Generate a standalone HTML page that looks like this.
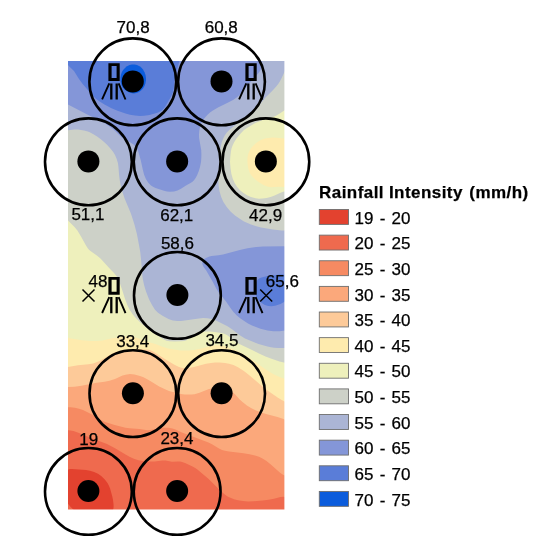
<!DOCTYPE html>
<html><head><meta charset="utf-8"><title>Rainfall Intensity</title>
<style>
html,body{margin:0;padding:0;background:#fff}
svg{display:block}
text{font-family:"Liberation Sans",Arial,Helvetica,sans-serif;font-size:17px;fill:#000;stroke:#000;stroke-width:0.25px}
.t{font-weight:bold}
</style></head><body>
<svg width="546" height="550" viewBox="0 0 546 550">
<rect width="546" height="550" fill="#fff"/>
<clipPath id="mc"><rect x="68" y="61" width="217" height="449"/></clipPath>
<g clip-path="url(#mc)">
<rect x="60" y="54" width="233" height="464" fill="#E3422F"/>
<path fill="#EF6A4E" fill-rule="evenodd" d="M60.5 54.0L293.0 54.0L293.0 518.0L101.4 518.0L103.5 517.5L106.0 516.5L107.9 515.5L109.5 514.4L111.0 513.0L112.2 511.5L113.0 510.0L113.4 508.5L113.6 506.5L113.5 504.0L113.0 500.0L112.3 496.5L110.1 488.5L108.8 485.5L107.5 483.0L104.8 479.5L101.2 476.0L98.0 473.8L94.1 472.0L90.0 470.7L86.0 469.9L72.0 469.0L70.0 469.1L68.5 469.5L66.5 470.7L65.3 472.0L64.3 473.5L62.7 477.0L61.8 481.5L61.7 486.0L62.4 491.0L63.7 495.5L65.5 499.5L67.9 503.5L70.7 507.0L74.0 510.2L77.5 512.8L81.5 515.1L86.0 516.9L90.1 518.0L60.0 518.0L60.0 54.0Z"/>
<path fill="#F68A62" fill-rule="evenodd" d="M60.5 54.0L293.0 54.0L293.0 506.7L291.1 503.0L288.8 500.0L286.0 497.7L284.5 497.0L283.5 496.8L280.5 497.0L274.0 498.8L268.5 499.8L262.5 500.5L253.5 501.3L248.0 501.4L243.0 501.1L238.0 500.3L234.0 499.2L231.0 498.1L228.5 497.0L226.5 495.8L224.5 494.3L220.5 490.8L208.1 478.5L197.4 469.5L195.2 468.0L192.5 466.5L185.0 463.0L182.1 462.0L180.0 461.5L178.0 461.5L172.0 461.8L165.5 460.5L162.5 460.6L154.5 461.5L150.0 461.6L144.0 461.2L138.5 460.3L134.5 459.0L130.0 456.9L125.5 454.4L115.5 448.4L107.0 444.1L93.5 438.9L79.0 432.9L73.5 431.1L68.5 430.3L64.5 430.4L60.0 431.3L60.0 54.0Z"/>
<path fill="#FBA87B" fill-rule="evenodd" d="M60.5 54.0L293.0 54.0L293.0 476.8L285.5 475.7L284.0 475.2L282.6 474.5L279.8 472.5L270.5 464.3L266.5 461.1L262.5 458.4L259.0 456.7L255.0 455.4L249.5 454.2L243.5 453.3L229.0 451.5L225.0 450.7L222.0 449.9L219.0 448.6L212.0 444.3L208.5 442.5L181.9 432.5L175.5 429.6L172.5 428.5L168.5 427.8L163.5 427.7L159.5 428.2L150.5 429.9L147.5 430.2L139.5 429.0L129.5 428.3L125.5 427.8L114.7 425.0L105.0 422.0L98.0 418.5L92.0 414.6L89.0 412.9L83.0 410.1L79.0 408.7L75.0 407.7L70.5 407.2L65.5 407.1L60.0 407.5L60.0 54.0Z"/>
<path fill="#FDCA99" fill-rule="evenodd" d="M60.5 54.0L293.0 54.0L293.0 425.4L287.8 421.5L283.5 419.0L277.5 417.0L267.0 414.2L261.3 412.5L256.0 410.5L251.0 408.0L246.9 405.5L242.5 402.0L239.7 399.5L235.2 394.5L233.0 392.5L231.0 391.3L228.5 390.3L225.0 389.4L220.5 388.7L216.5 388.4L212.5 388.4L209.0 389.1L199.5 392.8L194.5 394.2L191.5 394.5L188.0 394.6L184.5 394.4L181.0 393.9L173.0 392.1L169.0 390.9L165.0 389.3L159.2 386.5L149.0 380.3L143.5 377.3L140.0 375.9L134.5 374.4L130.0 374.1L125.5 374.7L122.5 375.5L115.0 379.0L109.5 380.7L104.5 381.7L96.5 382.8L81.5 385.8L74.5 386.7L60.0 387.3L60.0 54.0Z"/>
<path fill="#FEEBAE" fill-rule="evenodd" d="M60.5 54.0L293.0 54.0L293.0 403.8L284.5 401.4L281.7 400.0L278.0 397.7L270.0 392.3L264.5 388.2L249.0 375.1L243.9 371.0L238.0 367.2L233.5 365.1L229.0 363.7L225.0 362.9L219.5 362.5L215.0 362.5L211.0 362.9L206.0 363.8L194.0 366.9L190.0 367.8L186.0 368.2L182.5 368.0L179.0 366.9L174.0 364.5L166.5 360.1L153.9 352.0L151.1 350.5L149.0 349.8L142.0 349.3L134.0 349.3L127.5 349.8L120.0 351.0L117.0 351.7L114.5 352.6L110.8 354.5L99.5 361.0L96.5 362.3L93.0 363.4L88.5 364.3L78.0 365.3L68.0 367.1L64.5 367.2L60.0 366.8L60.0 54.0Z"/>
<path fill="#EEF0BC" fill-rule="evenodd" d="M60.5 54.0L293.0 54.0L293.0 139.2L284.0 138.5L276.5 137.7L272.5 137.6L269.0 137.9L266.0 138.3L263.5 139.0L261.0 140.0L258.3 141.5L255.6 143.5L252.5 146.5L250.5 149.1L249.2 151.5L248.2 154.0L247.6 157.0L247.4 160.5L247.7 165.0L248.3 168.5L249.4 172.0L250.7 174.5L253.0 177.3L255.9 180.0L259.3 182.5L263.5 185.0L267.2 186.5L270.5 187.2L278.5 186.8L284.0 186.9L287.2 186.0L293.0 183.6L293.0 382.2L279.0 376.8L273.0 373.9L265.0 368.9L247.6 356.5L244.4 354.5L236.5 350.5L226.5 346.7L222.5 345.5L219.0 345.1L215.0 345.2L211.0 345.9L203.5 348.0L194.0 350.0L189.0 350.5L180.5 350.4L172.0 349.3L168.0 348.4L162.5 346.8L155.5 344.0L149.0 342.3L138.0 338.2L134.5 337.2L131.0 336.6L127.0 336.3L123.0 336.4L111.0 338.5L102.5 340.4L97.0 340.9L91.0 340.9L82.0 340.2L71.0 338.5L65.8 337.0L60.0 334.4L60.0 54.0Z"/>
<path fill="#CDD1C8" fill-rule="evenodd" d="M60.5 54.0L293.0 54.0L293.0 105.4L285.5 109.6L279.0 114.0L276.0 115.7L273.0 116.9L264.0 119.6L256.5 122.6L254.0 123.8L247.8 127.5L244.0 130.1L240.2 134.0L236.5 138.5L234.3 142.0L232.6 145.5L231.5 148.5L230.9 151.5L230.3 157.0L230.0 162.0L230.5 168.1L231.4 174.0L232.7 178.5L234.5 182.7L237.0 186.7L240.0 190.2L243.5 193.1L247.5 195.5L251.0 196.9L255.5 198.2L259.0 198.7L262.5 198.6L266.5 198.1L270.5 197.1L274.0 195.7L281.1 192.5L284.0 191.5L285.7 191.5L293.0 192.4L293.0 364.0L286.0 362.9L279.5 361.4L271.5 358.8L265.5 356.5L259.5 353.8L250.5 349.3L239.3 344.0L234.6 341.0L228.0 335.8L226.0 334.5L223.5 333.6L219.5 332.7L214.5 331.9L210.0 331.6L205.0 331.6L200.5 332.0L197.5 332.6L195.5 333.5L188.5 339.0L186.5 340.2L184.5 341.0L181.0 341.3L175.0 341.5L169.5 341.3L166.5 340.8L163.8 339.5L154.2 333.5L148.6 329.5L143.7 325.5L139.8 322.0L135.8 318.0L132.8 314.5L129.8 310.0L127.3 305.0L124.7 298.0L122.2 290.0L120.0 283.7L118.4 279.5L117.0 276.8L114.0 273.0L109.1 268.0L100.5 258.5L97.5 256.0L90.5 251.1L89.2 250.0L87.9 248.5L86.0 245.5L81.0 236.4L77.4 230.5L74.5 227.0L68.5 221.0L67.0 219.0L65.0 215.0L60.0 203.3L60.0 54.0Z"/>
<path fill="#ABB5D5" fill-rule="evenodd" d="M60.5 54.0L293.0 54.0L293.0 57.5L284.9 71.0L281.4 78.5L279.8 81.5L278.2 84.0L276.2 86.5L272.6 90.5L265.5 97.6L258.9 105.5L254.0 110.5L245.1 118.0L238.6 122.5L229.5 129.8L226.8 132.5L224.7 135.5L223.2 138.5L221.7 142.5L220.9 146.0L219.9 152.0L219.4 156.5L219.2 164.5L218.5 173.0L218.3 178.5L218.6 185.5L219.5 191.3L221.2 197.0L223.4 202.0L226.7 207.0L230.5 211.4L235.0 215.4L240.5 219.3L244.0 221.4L247.5 223.1L251.0 224.6L255.5 226.1L261.0 227.6L273.0 229.6L281.5 230.5L284.1 230.5L286.0 230.0L287.5 229.3L293.0 226.2L293.0 347.6L283.5 348.1L278.5 348.0L274.0 347.7L271.0 347.3L267.5 346.6L258.5 344.1L245.0 338.6L240.2 335.5L232.0 329.3L227.5 326.3L217.0 320.9L214.5 319.8L212.0 319.0L207.5 318.2L203.0 318.1L199.0 318.4L181.0 321.0L177.5 321.0L173.0 320.4L170.5 319.8L168.5 319.1L162.5 315.8L158.0 312.7L155.0 309.7L152.0 305.1L149.0 299.2L146.0 291.5L144.2 285.5L143.1 280.5L142.5 277.0L141.1 260.0L140.3 252.5L139.0 245.0L136.9 234.0L134.6 225.0L131.9 216.5L130.5 212.5L124.6 198.5L122.0 190.5L120.7 185.5L119.7 180.0L119.1 175.0L118.4 166.5L117.9 163.0L116.7 159.0L115.0 155.0L113.2 152.0L110.4 148.5L107.3 145.0L104.1 142.0L100.5 139.0L97.1 136.5L93.0 134.0L89.2 132.0L87.0 131.2L84.0 130.4L78.0 129.5L74.5 129.5L67.0 130.3L60.0 130.2L60.0 54.0Z"/>
<path fill="#8496D8" fill-rule="evenodd" d="M60.5 54.0L261.5 54.0L261.9 58.5L262.0 62.0L261.7 65.0L261.2 68.0L260.5 70.0L259.5 71.8L256.5 75.5L247.7 85.0L240.0 94.6L237.0 97.2L233.0 99.9L228.1 102.5L218.0 107.5L212.5 110.8L210.0 112.6L207.8 114.5L205.5 116.9L204.0 118.7L202.0 122.0L200.7 125.0L199.9 127.5L199.3 131.0L199.0 134.5L199.1 138.0L201.2 150.0L201.4 154.0L201.3 158.0L201.0 162.0L200.0 167.0L198.8 171.0L197.2 175.0L195.6 178.0L194.2 180.0L192.5 181.7L190.5 183.1L186.0 185.4L181.0 188.7L177.5 190.5L174.0 191.6L170.0 191.8L167.0 191.5L164.0 190.8L155.5 187.9L153.0 186.7L151.0 185.4L149.5 184.1L148.1 182.5L145.9 179.0L144.2 175.0L143.0 170.5L140.7 160.0L138.1 151.0L136.3 147.5L135.0 146.0L133.5 144.6L130.5 142.5L121.9 137.5L113.0 129.0L109.5 126.4L105.5 123.8L99.0 120.2L88.2 115.0L60.0 100.5L60.0 54.0ZM263.0 246.5L284.0 246.3L288.0 246.9L293.0 248.0L293.0 328.2L290.9 329.0L285.0 330.6L279.5 331.3L273.5 331.3L267.5 330.4L260.5 328.7L252.0 325.4L248.0 323.4L240.5 318.5L236.8 315.5L233.5 312.0L231.2 309.0L226.0 301.6L218.8 292.5L216.2 288.5L213.0 282.2L206.2 270.5L203.3 266.5L202.5 264.5L202.3 263.5L202.5 262.0L202.8 261.0L203.5 259.9L204.4 259.0L205.9 258.0L209.4 256.5L211.5 256.1L218.5 255.3L223.0 254.5L239.8 250.0L247.5 248.3L256.5 246.9Z"/>
<path fill="#5A7DD8" fill-rule="evenodd" d="M66.0 54.0L180.0 54.0L180.0 54.5L179.8 58.0L179.3 61.5L176.5 71.5L174.6 79.5L173.8 88.0L173.1 92.0L171.4 96.0L165.6 106.0L164.0 108.2L162.0 110.2L160.0 111.5L157.5 112.7L153.0 114.1L149.5 114.9L144.0 115.7L140.0 115.9L135.0 115.5L130.0 114.7L125.5 113.4L117.5 110.7L111.0 107.9L104.5 104.6L99.6 101.5L95.6 98.5L92.1 95.0L82.7 84.0L79.0 79.0L74.0 71.0L69.3 66.5L68.0 65.0L67.0 63.0L66.1 60.0L65.8 56.5L65.8 54.0ZM279.0 274.4L282.5 274.3L285.0 275.0L286.5 275.9L287.9 277.0L289.2 278.5L290.2 280.0L291.0 281.5L291.7 283.5L292.3 287.0L292.2 289.0L291.9 291.0L290.7 294.5L289.0 297.5L286.5 300.2L284.0 302.1L280.5 303.9L275.0 305.7L271.5 306.3L268.2 306.0L264.9 305.0L262.0 303.3L259.5 301.2L257.5 298.7L256.1 296.0L255.2 292.5L254.9 288.5L255.2 285.0L256.0 282.3L257.1 280.5L258.4 279.0L260.0 278.0L261.5 277.4L267.5 276.1L274.5 275.3Z"/>
<path fill="#0B5CDC" fill-rule="evenodd" d="M132.0 64.5L134.5 64.5L137.0 65.1L139.5 66.3L141.5 67.8L143.0 69.6L144.5 72.2L145.5 75.0L146.0 78.0L146.0 80.5L145.4 83.5L144.5 86.0L143.0 88.5L141.0 90.5L139.0 91.9L136.5 93.0L134.0 93.5L132.0 93.3L129.2 92.5L126.5 91.1L124.5 89.5L122.8 87.5L121.7 85.5L120.9 83.0L120.5 80.5L120.5 77.5L121.0 74.5L121.9 72.0L123.1 70.0L125.0 67.9L127.0 66.3L129.5 65.1Z"/>
</g>
<path fill="#fff" d="M284.4 60H286V511H284.4ZM67 509.6H286V511H67ZM67 60H67.8V511H67Z"/>
<g fill="none" stroke="#000" stroke-width="2.6">
<circle cx="132.8" cy="81.8" r="43.4"/>
<circle cx="221.5" cy="81.8" r="43.4"/>
<circle cx="88.4" cy="161.8" r="43.4"/>
<circle cx="177.15" cy="161.8" r="43.4"/>
<circle cx="265.85" cy="161.8" r="43.4"/>
<circle cx="177.4" cy="295.4" r="43.4"/>
<circle cx="132.9" cy="393.6" r="43.4"/>
<circle cx="221.6" cy="393.6" r="43.4"/>
<circle cx="88.4" cy="491.4" r="43.4"/>
<circle cx="177.15" cy="491.4" r="43.4"/>
</g><g fill="#000">
<circle cx="132.8" cy="81.4" r="11.0"/>
<circle cx="221.5" cy="81.4" r="11.0"/>
<circle cx="88.4" cy="161.4" r="11.0"/>
<circle cx="177.15" cy="161.4" r="11.0"/>
<circle cx="265.85" cy="161.4" r="11.0"/>
<circle cx="177.4" cy="295.0" r="11.0"/>
<circle cx="132.9" cy="393.2" r="11.0"/>
<circle cx="221.6" cy="393.2" r="11.0"/>
<circle cx="88.4" cy="491.0" r="11.0"/>
<circle cx="177.15" cy="491.0" r="11.0"/>
</g>
<g transform="translate(0,0)" stroke="#000" fill="none" stroke-linecap="butt">
<path d="M108.4 63.2H119.7V81.1H108.4ZM111.6 66H116.6V78.1H111.6Z" fill="#000" fill-rule="evenodd" stroke="none"/>
<path d="M109.3 83.4L102.1 99.3M118.6 83.4L125.5 99.5" stroke-width="1.9"/><path d="M111.3 83.4V99.5M116.7 83.4V99.5" stroke-width="2.3"/>
</g>
<g transform="translate(137,0)" stroke="#000" fill="none" stroke-linecap="butt">
<path d="M108.4 63.2H119.7V81.1H108.4ZM111.6 66H116.6V78.1H111.6Z" fill="#000" fill-rule="evenodd" stroke="none"/>
<path d="M109.3 83.4L102.1 99.3M118.6 83.4L125.5 99.5" stroke-width="1.9"/><path d="M111.3 83.4V99.5M116.7 83.4V99.5" stroke-width="2.3"/>
</g>
<g transform="translate(0,213.7)" stroke="#000" fill="none" stroke-linecap="butt">
<path d="M108.4 63.2H119.7V81.1H108.4ZM111.6 66H116.6V78.1H111.6Z" fill="#000" fill-rule="evenodd" stroke="none"/>
<path d="M109.3 83.4L102.1 99.3M118.6 83.4L125.5 99.5" stroke-width="1.9"/><path d="M111.3 83.4V99.5M116.7 83.4V99.5" stroke-width="2.3"/>
</g>
<g transform="translate(137,213.7)" stroke="#000" fill="none" stroke-linecap="butt">
<path d="M108.4 63.2H119.7V81.1H108.4ZM111.6 66H116.6V78.1H111.6Z" fill="#000" fill-rule="evenodd" stroke="none"/>
<path d="M109.3 83.4L102.1 99.3M118.6 83.4L125.5 99.5" stroke-width="1.9"/><path d="M111.3 83.4V99.5M116.7 83.4V99.5" stroke-width="2.3"/>
</g>
<path d="M82.5 289.5L94.5 301.5M94.5 289.5L82.5 301.5" stroke="#000" stroke-width="1.5" fill="none"/>
<path d="M260.2 289.5L272.2 301.5M272.2 289.5L260.2 301.5" stroke="#000" stroke-width="1.5" fill="none"/>
<text x="116.6" y="33.3">70,8</text>
<text x="204.7" y="33.1">60,8</text>
<text x="71.4" y="220.3">51,1</text>
<text x="160.2" y="220.5">62,1</text>
<text x="249" y="220.5">42,9</text>
<text x="160.9" y="248.5">58,6</text>
<text x="88.5" y="287.2">48</text>
<text x="265.8" y="287.2">65,6</text>
<text x="116.2" y="346.5">33,4</text>
<text x="205.4" y="346.4">34,5</text>
<text x="79.3" y="445.1">19</text>
<text x="160.4" y="443.8">23,4</text>
<text class="t" y="198.1" letter-spacing="0.45"><tspan x="319">Rainfall</tspan> <tspan x="388.9">Intensity</tspan> <tspan x="469.3">(mm/h)</tspan></text>
<rect x="319.3" y="209.50" width="29.2" height="14.9" fill="#E3422F" stroke="#6e6e6e" stroke-width="0.9"/>
<text x="354.5" y="223.70" word-spacing="1.5">19 - 20</text>
<rect x="319.3" y="235.13" width="29.2" height="14.9" fill="#EF6A4E" stroke="#6e6e6e" stroke-width="0.9"/>
<text x="354.5" y="249.33" word-spacing="1.5">20 - 25</text>
<rect x="319.3" y="260.76" width="29.2" height="14.9" fill="#F68A62" stroke="#6e6e6e" stroke-width="0.9"/>
<text x="354.5" y="274.96" word-spacing="1.5">25 - 30</text>
<rect x="319.3" y="286.39" width="29.2" height="14.9" fill="#FBA87B" stroke="#6e6e6e" stroke-width="0.9"/>
<text x="354.5" y="300.59" word-spacing="1.5">30 - 35</text>
<rect x="319.3" y="312.02" width="29.2" height="14.9" fill="#FDCA99" stroke="#6e6e6e" stroke-width="0.9"/>
<text x="354.5" y="326.22" word-spacing="1.5">35 - 40</text>
<rect x="319.3" y="337.65" width="29.2" height="14.9" fill="#FEEBAE" stroke="#6e6e6e" stroke-width="0.9"/>
<text x="354.5" y="351.85" word-spacing="1.5">40 - 45</text>
<rect x="319.3" y="363.28" width="29.2" height="14.9" fill="#EEF0BC" stroke="#6e6e6e" stroke-width="0.9"/>
<text x="354.5" y="377.48" word-spacing="1.5">45 - 50</text>
<rect x="319.3" y="388.91" width="29.2" height="14.9" fill="#CDD1C8" stroke="#6e6e6e" stroke-width="0.9"/>
<text x="354.5" y="403.11" word-spacing="1.5">50 - 55</text>
<rect x="319.3" y="414.54" width="29.2" height="14.9" fill="#ABB5D5" stroke="#6e6e6e" stroke-width="0.9"/>
<text x="354.5" y="428.74" word-spacing="1.5">55 - 60</text>
<rect x="319.3" y="440.17" width="29.2" height="14.9" fill="#8496D8" stroke="#6e6e6e" stroke-width="0.9"/>
<text x="354.5" y="454.37" word-spacing="1.5">60 - 65</text>
<rect x="319.3" y="465.80" width="29.2" height="14.9" fill="#5A7DD8" stroke="#6e6e6e" stroke-width="0.9"/>
<text x="354.5" y="480.00" word-spacing="1.5">65 - 70</text>
<rect x="319.3" y="491.43" width="29.2" height="14.9" fill="#0B5CDC" stroke="#6e6e6e" stroke-width="0.9"/>
<text x="354.5" y="505.63" word-spacing="1.5">70 - 75</text>
</svg></body></html>
